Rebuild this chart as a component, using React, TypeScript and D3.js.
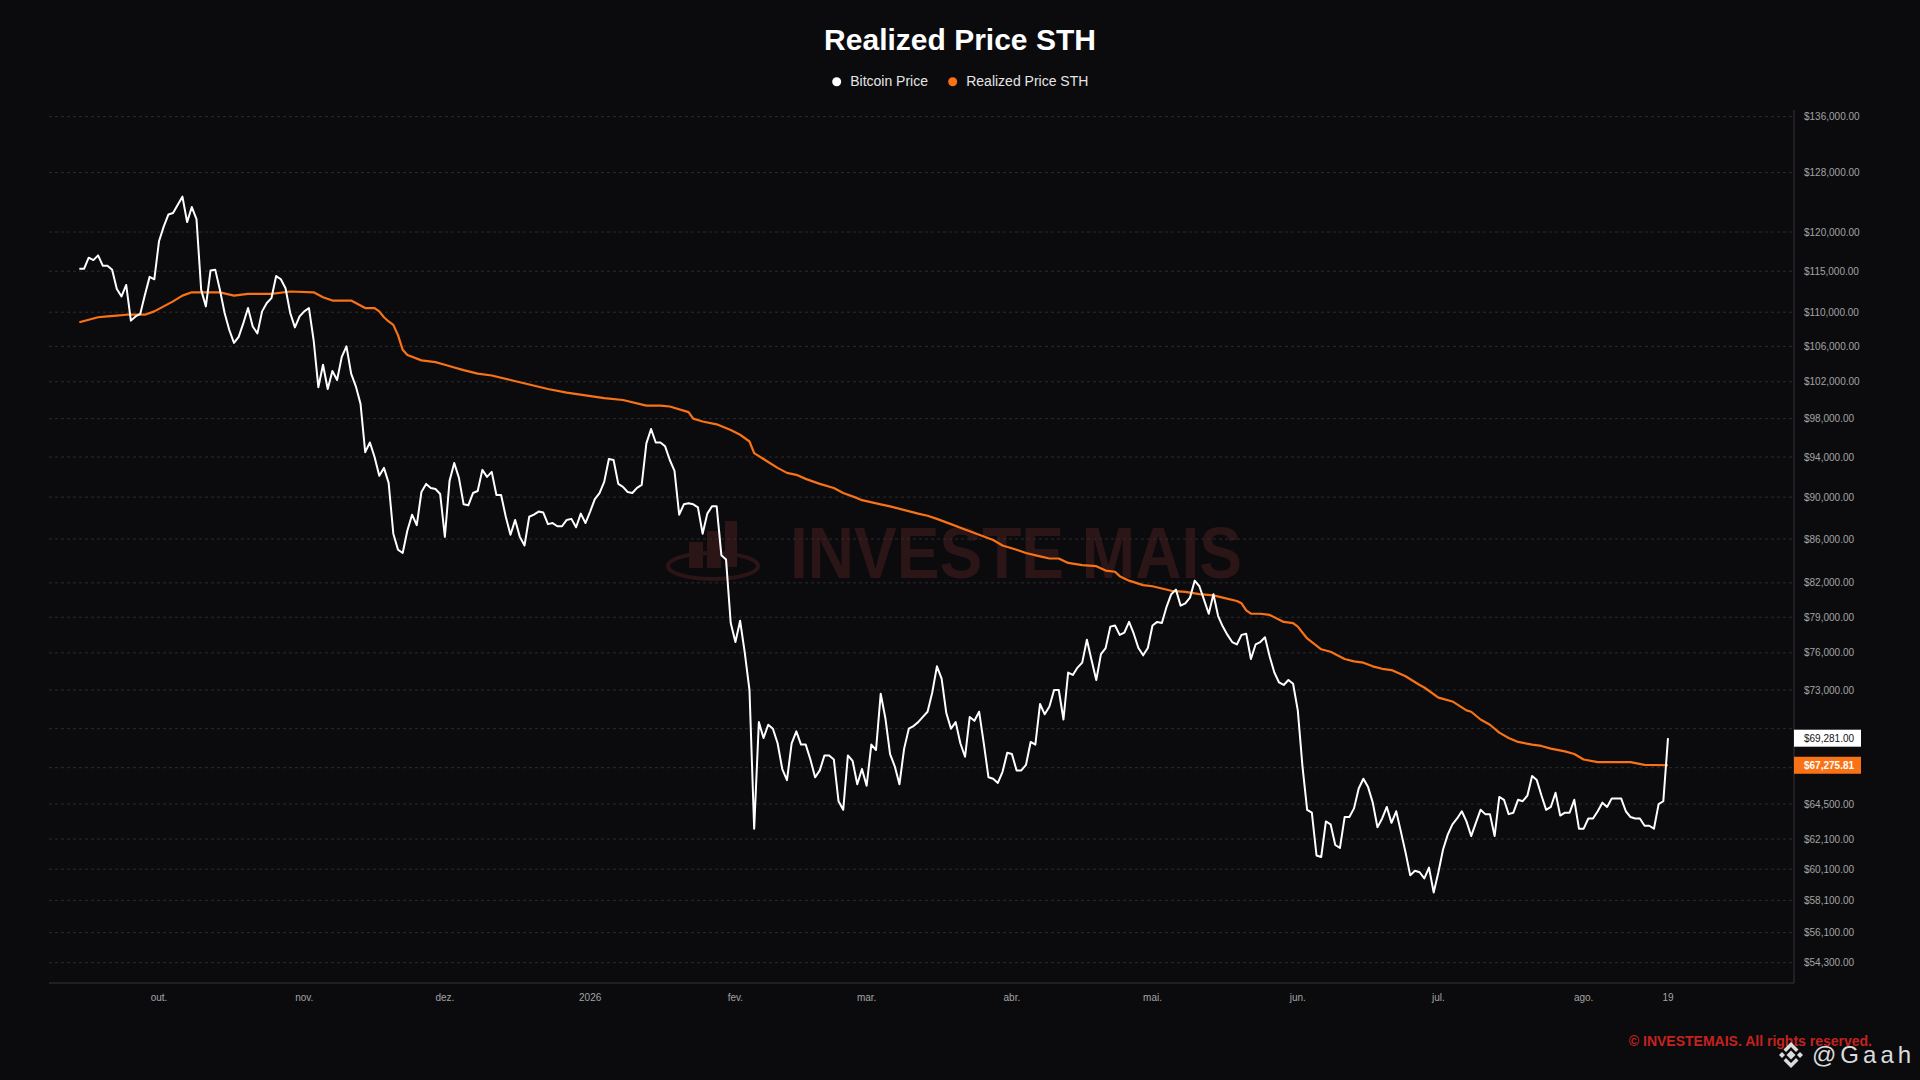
import { useEffect, useRef } from "react"
import * as d3 from "d3"

// daily BTC price (in $k), one value per day starting at btcStart
const btcStart = "2025-09-14"
const btcPrice = [
  115.3, 115.3, 116.7, 116.4, 117.0, 115.7, 115.7, 115.2, 112.8, 111.9,
  113.3, 109.0, 109.5, 109.8, 112.1, 114.3, 114.0, 118.8, 120.7, 122.3,
  122.5, 123.6, 124.7, 121.3, 123.3, 121.7, 112.7, 110.7, 115.1, 115.2,
  112.7, 109.9, 107.9, 106.4, 107.1, 108.7, 110.5, 108.3, 107.5, 110.1,
  111.1, 111.7, 114.4, 114.0, 112.9, 109.9, 108.2, 109.5, 110.1, 110.5,
  106.7, 101.4, 103.9, 101.2, 103.2, 102.2, 104.8, 106.0, 102.9, 101.5,
  99.6, 94.5, 95.5, 94.0, 92.1, 92.9, 91.4, 86.5, 85.0, 84.7,
  86.8, 88.3, 87.3, 90.5, 91.3, 90.9, 90.8, 90.3, 86.2, 91.6,
  93.4, 91.9, 89.3, 89.2, 90.4, 90.6, 92.7, 92.0, 92.5, 90.2,
  90.2, 88.1, 86.4, 87.8, 86.2, 85.4, 88.1, 88.3, 88.6, 88.5,
  87.4, 87.5, 87.2, 87.2, 87.8, 87.9, 87.1, 88.4, 87.5, 88.6,
  89.8, 90.4, 91.5, 93.8, 93.7, 91.3, 91.0, 90.5, 90.4, 90.9,
  91.2, 95.4, 96.9, 95.5, 95.5, 95.1, 93.7, 92.6, 88.3, 89.3,
  89.4, 89.3, 89.0, 86.5, 88.4, 89.1, 89.1, 84.5, 84.1, 78.5,
  76.9, 78.7, 76.0, 73.0, 62.8, 70.5, 69.3, 70.3, 70.0, 68.9,
  67.0, 66.2, 68.9, 69.8, 68.8, 68.8, 67.7, 66.4, 66.9, 68.0,
  68.0, 67.7, 64.7, 64.1, 68.0, 67.6, 65.9, 67.0, 65.8, 68.8,
  68.4, 72.7, 70.8, 68.1, 67.2, 65.9, 68.5, 70.0, 70.2, 70.5,
  70.9, 71.3, 72.8, 74.9, 73.9, 71.2, 70.0, 70.5, 68.9, 67.9,
  70.9, 70.6, 71.3, 68.9, 66.4, 66.3, 66.0, 66.8, 68.2, 68.1,
  66.9, 66.9, 67.3, 69.0, 68.8, 71.9, 71.1, 71.7, 73.0, 73.0,
  70.7, 74.4, 74.2, 74.8, 75.2, 77.1, 75.4, 73.8, 75.9, 76.4,
  78.2, 78.3, 77.5, 77.7, 78.6, 77.6, 76.4, 75.8, 76.4, 78.3,
  78.6, 78.5, 79.9, 81.0, 81.4, 80.0, 80.2, 80.7, 82.2, 81.7,
  80.5, 79.3, 81.0, 79.1, 78.2, 77.5, 76.9, 76.7, 77.5, 77.6,
  75.5, 76.7, 76.9, 77.3, 75.7, 74.4, 73.6, 73.4, 73.8, 73.5,
  71.4, 67.2, 64.1, 63.9, 61.0, 60.9, 63.3, 63.1, 61.7, 61.5,
  63.6, 63.6, 64.2, 65.6, 66.3, 65.7, 64.6, 62.9, 63.5, 64.3,
  63.2, 64.0, 62.6, 61.2, 59.7, 60.0, 59.9, 59.5, 60.2, 58.6,
  59.9, 61.4, 62.4, 63.1, 63.5, 64.0, 63.3, 62.3, 63.2, 64.1,
  63.8, 63.8, 62.3, 65.0, 64.8, 63.8, 63.9, 64.8, 64.7, 65.1,
  66.5, 66.2, 65.1, 64.1, 64.3, 65.3, 63.7, 63.9, 63.9, 64.8,
  62.8, 62.8, 63.5, 63.5, 64.0, 64.6, 64.3, 64.9, 64.9, 64.9,
  64.0, 63.6, 63.5, 63.5, 63.0, 63.0, 62.8, 64.5, 64.7, 69.281,
]

// realized price STH (in $k), sampled at day offsets from btcStart
const sthDays = [
  0, 2, 4, 6, 8, 10, 14, 16, 18, 20, 22, 24, 30, 33, 36, 41, 45, 50, 52, 54,
  58, 61, 63, 64, 65, 66, 67, 68, 69, 70, 73, 76, 78, 80, 82, 85, 88, 92, 96, 100,
  104, 108, 112, 116, 121, 124, 126, 130, 131, 133, 136, 139, 141, 143, 144, 146, 147, 149, 151, 153,
  155, 158, 161, 163, 166, 167, 171, 173, 179, 181, 183, 186, 189, 192, 195, 197, 200, 202, 205, 207,
  209, 211, 214, 217, 219, 221, 222, 224, 227, 229, 231, 233, 236, 239, 242, 244, 247, 248, 249, 250,
  252, 254, 257, 259, 260, 262, 265, 267, 270, 272, 274, 276, 278, 280, 283, 286, 287, 290, 291, 293,
  296, 297, 299, 301, 303, 305, 307, 310, 312, 314, 317, 319, 321, 324, 328, 331, 334, 339,
]
const sthPrice = [
  108.8, 109.1, 109.4, 109.5, 109.6, 109.7, 109.7, 110.1, 110.7, 111.3, 112.0, 112.4, 112.4, 112.0, 112.2, 112.2, 112.5, 112.4, 111.8, 111.4,
  111.4, 110.5, 110.5, 110.1, 109.4, 108.9, 108.5, 107.3, 105.6, 105.0, 104.4, 104.2, 103.9, 103.6, 103.3, 102.9, 102.7, 102.2, 101.7, 101.2,
  100.8, 100.5, 100.2, 100.0, 99.4, 99.4, 99.3, 98.7, 98.0, 97.7, 97.4, 96.8, 96.3, 95.6, 94.4, 93.8, 93.5, 92.9, 92.4, 92.2,
  91.8, 91.3, 90.9, 90.4, 89.9, 89.7, 89.3, 89.1, 88.4, 88.2, 87.9, 87.4, 86.9, 86.4, 85.9, 85.4, 85.0, 84.7, 84.4, 84.2,
  84.2, 83.8, 83.6, 83.5, 83.1, 83.0, 82.6, 82.2, 81.8, 81.7, 81.5, 81.3, 81.2, 81.0, 80.9, 80.7, 80.4, 80.2, 79.6, 79.3,
  79.3, 79.2, 78.6, 78.5, 78.2, 77.2, 76.3, 76.1, 75.5, 75.3, 75.2, 74.9, 74.7, 74.6, 74.1, 73.4, 73.2, 72.4, 72.3, 72.1,
  71.4, 71.3, 70.7, 70.3, 69.7, 69.3, 69.0, 68.8, 68.7, 68.5, 68.3, 68.1, 67.7, 67.5, 67.5, 67.5, 67.3, 67.27581,
]

const yTicks = [
  136000, 128000, 120000, 115000, 110000, 106000, 102000, 98000, 94000, 90000, 86000,
  82000, 79000, 76000, 73000, 70000, 67100, 64500, 62100, 60100, 58100, 56100, 54300,
]

const xTickDates = [
  "2025-10-01", "2025-11-01", "2025-12-01", "2026-01-01", "2026-02-01", "2026-03-01",
  "2026-04-01", "2026-05-01", "2026-06-01", "2026-07-01", "2026-08-01", "2026-08-19",
]
const xTickLabels = ["out.", "nov.", "dez.", "2026", "fev.", "mar.", "abr.", "mai.", "jun.", "jul.", "ago.", "19"]

const seriesNames = ["Bitcoin Price", "Realized Price STH"]
const seriesColors = ["#ffffff", "#f97316"]

export default function App() {
  const svgRef = useRef<SVGSVGElement>(null)

  useEffect(() => {
    const svg = d3.select(svgRef.current)
    svg.selectAll("*").remove()

    const width = 1920
    const height = 1080
    const font = "'Liberation Sans', Arial, sans-serif"
    const plot = { left: 49, right: 1794, top: 110, bottom: 983 }
    const parse = d3.timeParse("%Y-%m-%d")
    const start = parse(btcStart)!

    const x = d3.scaleTime()
      .domain([parse("2025-10-01")!, parse("2026-08-19")!])
      .range([159, 1668])
    const y = d3.scaleLog()
      .domain([54300, 136000])
      .range([962.7, 116.7])

    svg.attr("width", width).attr("height", height)
      .style("font-family", font)

    svg.append("rect")
      .attr("width", width).attr("height", height)
      .attr("fill", "#0b0b0e")

    // Watermark
    const wm = svg.append("g").attr("fill", "#2c1517").attr("stroke", "#2c1517")
    wm.append("ellipse")
      .attr("cx", 713).attr("cy", 566).attr("rx", 45).attr("ry", 13)
      .attr("fill", "none").attr("stroke-width", 4)
    wm.append("rect").attr("x", 689).attr("y", 542).attr("width", 14).attr("height", 26).attr("stroke", "none")
    wm.append("rect").attr("x", 707).attr("y", 531).attr("width", 14).attr("height", 37).attr("stroke", "none")
    wm.append("rect").attr("x", 725).attr("y", 521).attr("width", 12).attr("height", 46).attr("stroke", "none")
    wm.append("text")
      .attr("x", 790).attr("y", 578)
      .attr("font-size", 72).attr("font-weight", "bold")
      .attr("stroke", "none")
      .attr("textLength", 452).attr("lengthAdjust", "spacingAndGlyphs")
      .text("INVESTE MAIS")

    // Grid
    svg.append("g")
      .selectAll("line")
      .data(yTicks)
      .enter()
      .append("line")
      .attr("x1", plot.left).attr("x2", plot.right)
      .attr("y1", d => y(d)).attr("y2", d => y(d))
      .attr("stroke", "#2c2c2f")
      .attr("stroke-dasharray", "3,3")

    // Axis lines
    svg.append("line")
      .attr("x1", plot.left).attr("x2", plot.right)
      .attr("y1", plot.bottom).attr("y2", plot.bottom)
      .attr("stroke", "#34343a")
    svg.append("line")
      .attr("x1", plot.right).attr("x2", plot.right)
      .attr("y1", plot.top).attr("y2", plot.bottom)
      .attr("stroke", "#34343a")

    // Series
    const btcData = btcPrice.map((v, i) => ({ date: d3.timeDay.offset(start, i), value: v * 1000 }))
    const sthData = sthDays.map((d, i) => ({ date: d3.timeDay.offset(start, d), value: sthPrice[i] * 1000 }))

    const line = d3.line<{ date: Date; value: number }>()
      .x(d => x(d.date))
      .y(d => y(d.value))

    svg.append("path")
      .datum(sthData)
      .attr("d", line)
      .attr("fill", "none")
      .attr("stroke", seriesColors[1])
      .attr("stroke-width", 2.2)
      .attr("stroke-linejoin", "round")

    svg.append("path")
      .datum(btcData)
      .attr("d", line)
      .attr("fill", "none")
      .attr("stroke", seriesColors[0])
      .attr("stroke-width", 2)
      .attr("stroke-linejoin", "round")

    // Y tick labels, skipping the ones under the price tags
    const fmt = d3.format("$,.2f")
    const lastBtc = btcData[btcData.length - 1].value
    const lastSth = sthData[sthData.length - 1].value
    const tagYs = [y(lastBtc), y(lastSth)]

    svg.append("g")
      .selectAll("text")
      .data(yTicks.filter(t => tagYs.every(ty => Math.abs(y(t) - ty) >= 10)))
      .enter()
      .append("text")
      .attr("x", 1804)
      .attr("y", d => y(d))
      .attr("dy", "0.35em")
      .attr("font-size", 10)
      .attr("fill", "#a3a3a3")
      .text(d => fmt(d))

    // Price tags
    const tags = [
      { value: lastBtc, bg: "#ffffff", fg: "#111111", weight: "normal" },
      { value: lastSth, bg: seriesColors[1], fg: "#ffffff", weight: "bold" },
    ]
    const tag = svg.append("g").selectAll("g")
      .data(tags)
      .enter()
      .append("g")
      .attr("transform", d => `translate(${plot.right},${y(d.value)})`)
    tag.append("rect")
      .attr("x", 0).attr("y", -8.5)
      .attr("width", 67).attr("height", 17)
      .attr("fill", d => d.bg)
    tag.append("text")
      .attr("x", 10).attr("dy", "0.35em")
      .attr("font-size", 10)
      .attr("font-weight", d => d.weight)
      .attr("fill", d => d.fg)
      .text(d => fmt(d.value))

    // X tick labels
    svg.append("g")
      .selectAll("text")
      .data(xTickDates)
      .enter()
      .append("text")
      .attr("x", d => x(parse(d)!))
      .attr("y", 997)
      .attr("dy", "0.35em")
      .attr("text-anchor", "middle")
      .attr("font-size", 10)
      .attr("fill", "#a3a3a3")
      .text((d, i) => xTickLabels[i])

    // Title
    svg.append("text")
      .attr("x", 960).attr("y", 50)
      .attr("text-anchor", "middle")
      .attr("font-size", 30)
      .attr("font-weight", "bold")
      .attr("fill", "#ffffff")
      .text("Realized Price STH")

    // Legend
    const legendX = [836.7, 952.7]
    const legend = svg.append("g")
      .selectAll("g")
      .data(seriesNames)
      .enter()
      .append("g")
      .attr("transform", (d, i) => `translate(${legendX[i]},81.7)`)
    legend.append("circle")
      .attr("r", 4.5)
      .attr("fill", (d, i) => seriesColors[i])
    legend.append("text")
      .attr("x", 13.5).attr("y", 4.6)
      .attr("font-size", 14)
      .attr("fill", "#e5e5e5")
      .text(d => d)

    // Footer
    svg.append("text")
      .attr("x", 1872).attr("y", 1046)
      .attr("text-anchor", "end")
      .attr("font-size", 14)
      .attr("font-weight", "bold")
      .attr("fill", "#c4221f")
      .text("© INVESTEMAIS. All rights reserved.")

    const logo = svg.append("g")
      .attr("transform", "translate(1791,1055)")
      .attr("fill", "#dcdcdc")
    logo.append("polygon").attr("points", "0,-4.5 4.5,0 0,4.5 -4.5,0")
    logo.append("polygon").attr("points", "-9,-3 -6,0 -9,3 -12,0")
    logo.append("polygon").attr("points", "9,-3 12,0 9,3 6,0")
    logo.append("polygon").attr("points", "0,-13 7.5,-5.5 5,-3 0,-8 -5,-3 -7.5,-5.5")
    logo.append("polygon").attr("points", "0,13 7.5,5.5 5,3 0,8 -5,3 -7.5,5.5")

    svg.append("text")
      .attr("x", 1812).attr("y", 1063)
      .attr("font-size", 24)
      .attr("letter-spacing", 4)
      .attr("fill", "#dcdcdc")
      .text("@Gaah")
  }, [])

  return (
    <svg
      ref={svgRef}
      style={{ position: "absolute", left: 0, top: 0, display: "block" }}
    ></svg>
  )
}
